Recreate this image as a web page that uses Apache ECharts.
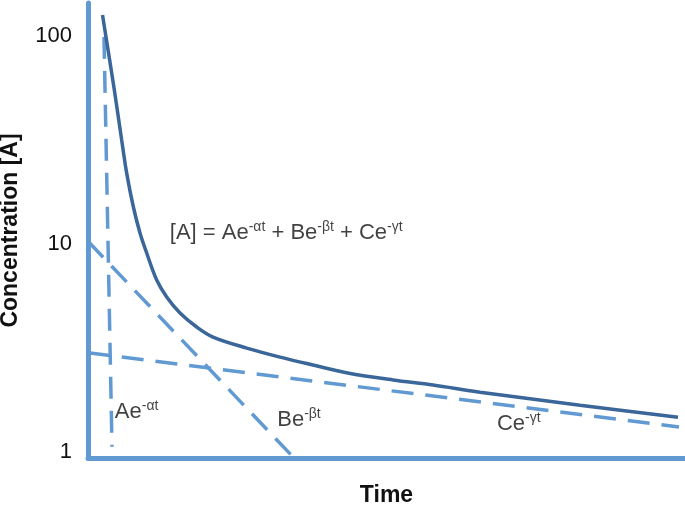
<!DOCTYPE html>
<html>
<head>
<meta charset="utf-8">
<title>Concentration vs Time</title>
<script src="https://cdn.jsdelivr.net/npm/echarts@6/dist/echarts.min.js"></script>
<style>
  html, body { margin: 0; padding: 0; background: #fff; }
  #chart { width: 685px; height: 511px; }
</style>
</head>
<body>
<div id="chart"></div>
<script>
// 总浓度曲线
const totalT = [2.43, 4.41, 5.64, 6.48, 7.59, 8.71, 9.83, 11.51, 13.18, 15.41, 18.21, 20.94, 26.58, 32.16, 37.69, 43.5, 51.09, 57.79, 65.66, 82.41, 98.83];
const totalC = [126, 55, 31.6, 21.9, 15.1, 11.3, 9.05, 6.71, 5.56, 4.66, 3.99, 3.57, 3.16, 2.86, 2.62, 2.4, 2.22, 2.1, 1.94, 1.68, 1.47];

// 三个指数分量 (对数坐标下为直线, 两端点)
const compAT = [2.68, 4.02];
const compAC = [99, 1.06];
const compBT = [0, 34.3];
const compBC = [10.3, 0.95];
const compCT = [0, 99];
const compCC = [3.0, 1.32];

// 文字标注: 位置 (t, 浓度) 和内容 [正文, 上标]
const noteT = [13.7, 4.5, 31.7, 68.5];
const noteC = [11.3, 1.56, 1.43, 1.36];
const noteParts = [
  [['[A] = Ae', '-αt'], [' + Be', '-βt'], [' + Ce', '-γt']],
  [['Ae', '-αt']],
  [['Be', '-βt']],
  [['Ce', '-γt']]
];

const yTickLabels = ['1', '10', '100'];

const FONT = '"Liberation Sans", Arial, Helvetica, sans-serif';
const AXIS_COLOR = '#6199d2';
const DASH_COLOR = '#6199d2';
const SOLID_COLOR = '#3a6699';
const TEXT_COLOR = '#111';

const zip = (a, b) => a.map((v, i) => [v, b[i]]);

const chart = echarts.init(document.getElementById('chart'));

const dashedSeries = (t, c) => ({
  type: 'line',
  data: zip(t, c),
  showSymbol: false,
  silent: true,
  z: 3,
  lineStyle: { color: DASH_COLOR, width: 3.5, type: [22, 12] }
});

chart.setOption({
  animation: false,
  backgroundColor: '#fff',
  grid: { left: 88, right: 0, top: 3, bottom: 53, outerBoundsMode: 'none', containLabel: false },
  xAxis: {
    type: 'value', min: 0, max: 100,
    name: 'Time', nameLocation: 'middle', nameGap: 26,
    nameTextStyle: { fontFamily: FONT, fontSize: 23, fontWeight: 'bold', color: TEXT_COLOR },
    axisLine: { show: true, lineStyle: { color: AXIS_COLOR, width: 5 } },
    axisTick: { show: false },
    axisLabel: { show: false },
    splitLine: { show: false }
  },
  yAxis: {
    type: 'log', logBase: 10, min: 0.936, max: 144, splitNumber: 2,
    name: 'Concentration [A]', nameLocation: 'middle', nameGap: 66, nameRotate: 90,
    nameTextStyle: { fontFamily: FONT, fontSize: 23, fontWeight: 'bold', color: TEXT_COLOR },
    axisLine: { show: true, lineStyle: { color: AXIS_COLOR, width: 5 } },
    axisTick: { show: false },
    splitLine: { show: false },
    axisLabel: {
      fontFamily: FONT, fontSize: 22, color: TEXT_COLOR, margin: 16,
      formatter: v => {
        const e = Math.log10(v);
        if (Math.abs(e - Math.round(e)) > 1e-6) return '';
        return yTickLabels[Math.round(e)] || '';
      }
    }
  },
  series: [
    dashedSeries(compAT, compAC),
    dashedSeries(compBT, compBC),
    dashedSeries(compCT, compCC),
    {
      type: 'line',
      data: zip(totalT, totalC),
      smooth: 0.35,
      showSymbol: false,
      silent: true,
      z: 4,
      lineStyle: { color: SOLID_COLOR, width: 3.5 }
    },
    {
      type: 'scatter',
      symbolSize: 0,
      silent: true,
      z: 5,
      data: noteT.map((t, i) => ({
        value: [t, noteC[i]],
        label: {
          show: true,
          position: 'right',
          distance: 0,
          formatter: noteParts[i].map(p => `{m|${p[0]}}{s|${p[1]}}`).join('')
        }
      })),
      label: {
        rich: {
          m: { fontFamily: FONT, fontSize: 22, color: TEXT_COLOR, lineHeight: 26 },
          s: { fontFamily: FONT, fontSize: 14, color: TEXT_COLOR, lineHeight: 14, verticalAlign: 'top' }
        }
      }
    }
  ]
});
</script>
</body>
</html>
